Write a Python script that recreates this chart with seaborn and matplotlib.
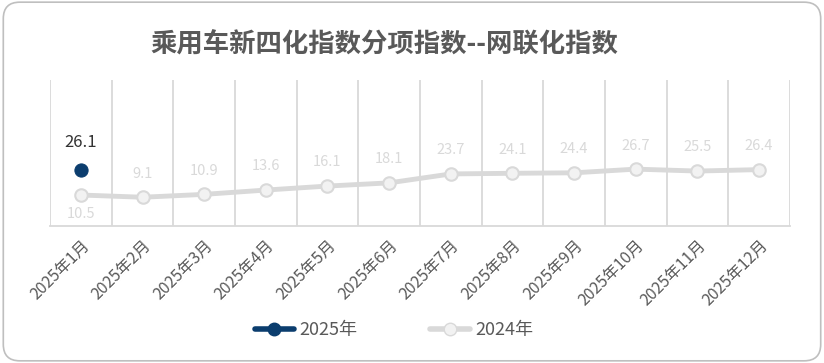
import numpy as np
import pandas as pd
import matplotlib
matplotlib.use('Agg')
import matplotlib.pyplot as plt
import seaborn as sns
from matplotlib.patches import FancyBboxPatch
from matplotlib.lines import Line2D

# Datos
meses = ['2025年1月', '2025年2月', '2025年3月', '2025年4月', '2025年5月', '2025年6月',
         '2025年7月', '2025年8月', '2025年9月', '2025年10月', '2025年11月', '2025年12月']
valores_2024 = [10.5, 9.1, 10.9, 13.6, 16.1, 18.1, 23.7, 24.1, 24.4, 26.7, 25.5, 26.4]
valores_2025 = [26.1]

titulo = '乘用车新四化指数分项指数--网联化指数'
color_2025 = '#0b3d6e'
color_2024 = '#d9d9d9'

sns.set_style('white')
plt.rcParams['font.family'] = ['Noto Sans CJK SC', 'DejaVu Sans']

fig = plt.figure(figsize=(8.24, 3.63), dpi=100)
ax = fig.add_axes([0.0607, 0.377, 0.898, 0.403])

df24 = pd.DataFrame({'x': np.arange(len(valores_2024)), 'v': valores_2024})
df25 = pd.DataFrame({'x': np.arange(len(valores_2025)), 'v': valores_2025})

sns.lineplot(data=df24, x='x', y='v', ax=ax, color=color_2024, linewidth=3.5,
             marker='o', markersize=9, markerfacecolor='#f2f2f2',
             markeredgecolor=color_2024, markeredgewidth=1.5, zorder=3)
sns.scatterplot(data=df25, x='x', y='v', ax=ax, color=color_2025, s=90,
                edgecolor=color_2025, zorder=4)

# Etiquetas de datos
for i, v in enumerate(valores_2024):
    dy = -14 if i == 0 else 17
    ax.annotate(f'{v}', (i, v), xytext=(0, dy), textcoords='offset points',
                ha='center', va='center', fontsize=10.5, color=color_2024)
for i, v in enumerate(valores_2025):
    ax.annotate(f'{v}', (i, v), xytext=(0, 20), textcoords='offset points',
                ha='center', va='center', fontsize=12, color='#333333')

ax.set_xlim(-0.5, len(meses) - 0.5)
ax.set_ylim(-9, 82.6)
ax.set_xticks(np.arange(len(meses)))
ax.set_xticklabels(meses, rotation=45, ha='right', rotation_mode='anchor',
                   fontsize=11.5, color='#595959')
ax.set_xticks(np.arange(-0.5, len(meses)), minor=True)
ax.tick_params(axis='x', which='both', length=0, pad=8)
ax.set_yticks([])
ax.set_xlabel('')
ax.set_ylabel('')
ax.grid(False)
ax.grid(True, which='minor', axis='x', color='#d9d9d9', linewidth=1.3)
for s in ['top', 'left', 'right']:
    ax.spines[s].set_visible(False)
ax.spines['bottom'].set_color('#d9d9d9')
ax.spines['bottom'].set_linewidth(1.3)

fig.text(0.466, 0.876, titulo, ha='center', va='center', fontsize=19,
         fontweight='bold', color='#595959')

# Leyenda
handles = [
    Line2D([0], [0], color=color_2025, linewidth=4, marker='o', markersize=9,
           markerfacecolor=color_2025),
    Line2D([0], [0], color=color_2024, linewidth=4, marker='o', markersize=9,
           markerfacecolor='#f2f2f2', markeredgecolor=color_2024),
]
fig.legend(handles, ['2025年', '2024年'], loc='center', bbox_to_anchor=(0.478, 0.09),
           ncol=2, frameon=False, fontsize=13, labelcolor='#595959',
           handlelength=2.2, handletextpad=0.3, columnspacing=4.0)

# Borde redondeado
borde = FancyBboxPatch((0.004, 0.006), 0.992, 0.988, boxstyle='round,pad=0,rounding_size=0.02',
                       transform=fig.transFigure, fill=False, edgecolor='#bfbfbf',
                       linewidth=1.2, mutation_aspect=824 / 363)
fig.patches.append(borde)

fig.savefig('out.png', dpi=100)
